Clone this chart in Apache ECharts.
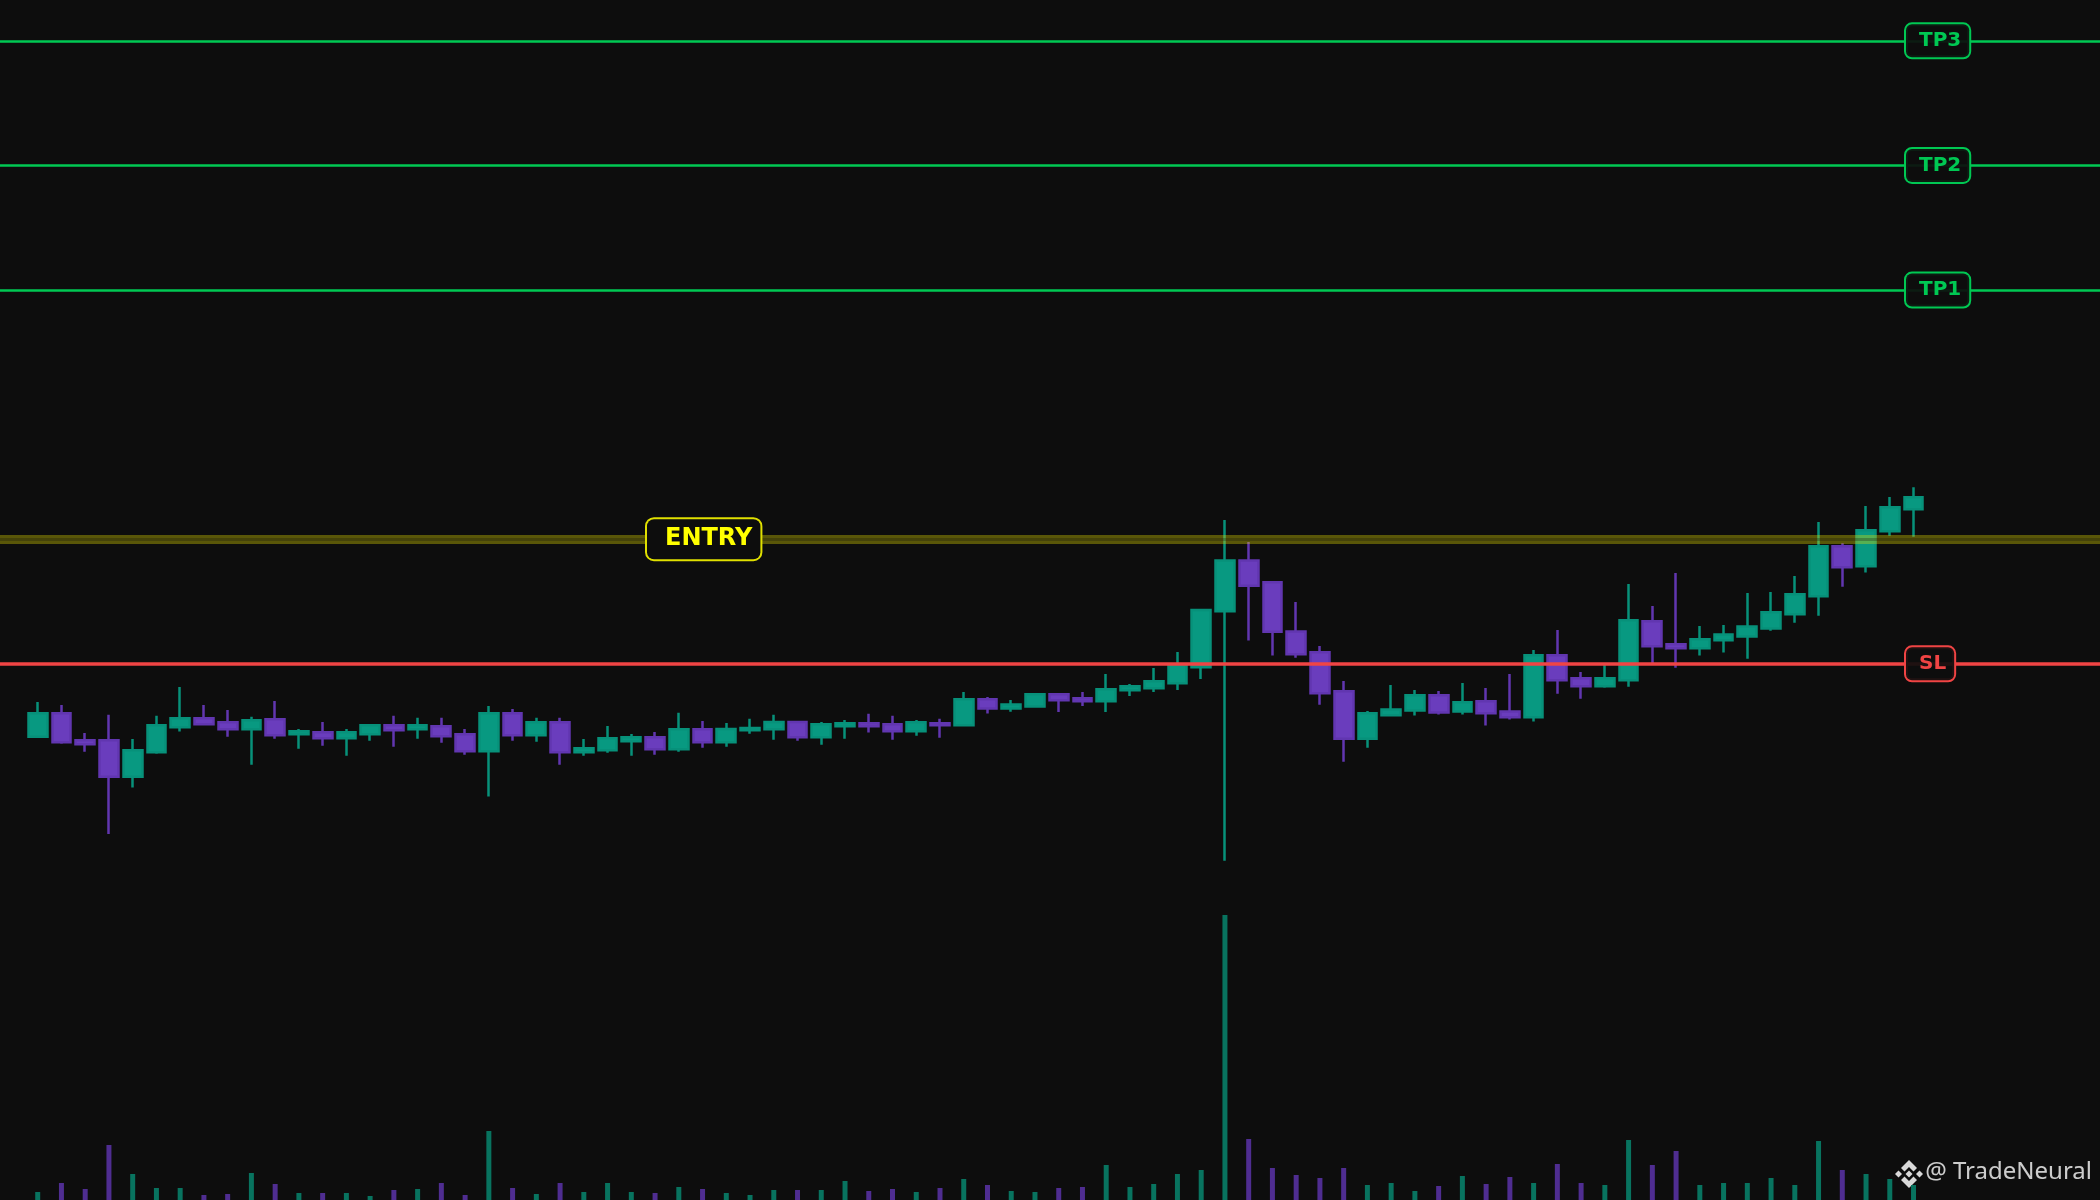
<!DOCTYPE html>
<html>
<head>
<meta charset="utf-8">
<style>
html,body{margin:0;padding:0;background:#0d0d0d;}
#chart{width:2100px;height:1200px;}
</style>
<script src="https://cdn.jsdelivr.net/npm/echarts@6.0.0/dist/echarts.min.js"></script>
</head>
<body>
<div id="chart"></div>
<script>
// ---- data ----
const opens = [92.07,93.01,91.93,91.93,90.47,91.45,92.45,92.81,92.65,92.37,
  92.77,92.17,92.25,92.01,92.17,92.53,92.37,92.49,92.17,91.49,
  93.01,92.13,92.65,91.45,91.53,91.89,92.05,91.57,92.37,91.85,
  92.33,92.37,92.66,92.05,92.49,92.61,92.57,92.29,92.61,92.53,
  93.58,93.21,93.29,93.78,93.62,93.50,93.94,94.02,94.22,94.86,
  97.11,99.15,98.27,96.30,95.46,93.90,91.99,92.93,93.13,93.74,
  93.09,93.50,93.09,92.85,95.34,94.42,94.10,94.34,96.71,95.78,
  95.62,95.94,96.10,96.42,96.99,97.71,99.72,98.91,100.32,101.20];
const closes = [93.01,91.85,91.77,90.47,91.53,92.53,92.81,92.57,92.37,92.73,
  92.13,92.29,92.01,92.25,92.53,92.33,92.53,92.09,91.49,93.01,
  92.13,92.65,91.45,91.61,92.01,92.05,91.57,92.37,91.85,92.38,
  92.42,92.66,92.05,92.57,92.61,92.49,92.29,92.65,92.53,93.58,
  93.21,93.37,93.78,93.54,93.50,93.98,94.10,94.30,94.97,97.16,
  99.15,98.13,96.29,95.38,93.82,91.99,93.01,93.17,93.74,93.05,
  93.46,93.01,92.85,95.34,94.34,94.10,94.42,96.75,95.70,95.62,
  95.98,96.18,96.50,97.07,97.79,99.72,98.87,100.36,101.28,101.68];
const lows = [92.03,91.79,91.47,88.17,90.03,91.39,92.28,92.57,92.07,90.95,
  91.99,91.59,91.71,91.31,91.91,91.67,91.99,91.83,91.35,89.67,
  91.91,91.87,90.95,91.31,91.43,91.31,91.35,91.47,91.63,91.67,
  92.19,91.95,91.91,91.75,91.99,92.24,91.95,92.11,92.03,92.53,
  93.00,93.08,93.24,93.07,93.31,93.07,93.71,93.87,93.95,94.39,
  87.10,95.93,95.33,95.24,93.36,91.07,91.63,92.93,92.92,92.96,
  92.96,92.52,92.76,92.68,93.80,93.60,94.04,94.08,94.97,94.84,
  95.33,95.45,95.20,96.33,96.65,96.93,98.09,98.66,100.14,100.10];
const highs = [93.47,93.35,92.22,92.95,91.98,92.91,94.07,93.35,93.15,92.87,
  93.51,92.38,92.66,92.38,92.58,92.91,92.83,92.83,92.38,93.31,
  93.19,92.83,92.83,91.98,92.50,92.18,92.26,93.03,92.70,92.62,
  92.79,92.95,92.70,92.66,92.74,92.99,92.91,92.74,92.79,93.87,
  93.67,93.55,93.83,93.78,93.87,94.59,94.19,94.83,95.47,97.20,
  100.77,99.89,98.32,97.48,95.71,94.31,93.11,94.15,93.95,93.91,
  94.23,94.03,94.59,95.55,96.36,94.67,94.99,98.20,97.32,98.64,
  96.52,96.56,97.84,97.88,98.52,100.69,99.84,101.33,101.69,102.09];
const volumes = [8,17,11,55,26,12,12,5,6,27,
  16,7,7,7,4,10,11,17,5,69,
  12,6,17,8,17,8,7,13,11,7,
  5,10,10,10,19,9,11,8,12,21,
  15,9,8,12,13,35,13,16,26,30,
  285,61,32,25,22,32,15,17,9,14,
  24,16,23,17,36,17,15,60,35,49,
  15,17,17,22,15,59,30,26,21,15];
const categories = opens.map((_, i) => 'bar ' + (i + 1));

const ENTRY = 100;
const SL = 95;
const TP1 = 110;
const TP2 = 115;
const TP3 = 120;
const levelNames = ['TP3', 'TP2', 'TP1', 'ENTRY', 'SL'];

// ---- styles ----
const GREEN = '#089981', GREEN_B = '#07917a';
const PURPLE = '#6a3dbd', PURPLE_B = '#6136b0';
const VOL_GREEN = '#08735f', VOL_PURPLE = '#4f2d91';
const TP_C = '#00c853';
const SL_C = '#f04444';
const ENTRY_TEXT = '#ffff00', ENTRY_BORDER = '#e0e000';
const BG = '#0d0d0d';

const P_MIN = 73.48, P_MAX = 121.64;
const LABEL_X = 1906;
const ENTRY_LABEL_X = 647;

const candleData = opens.map((o, i) => [o, closes[i], lows[i], highs[i]]);

function tagLabel(color) {
  return {
    show: true, position: 'right', distance: 0, formatter: '{b}',
    color: color, fontFamily: 'DejaVu Sans', fontWeight: 'bold', fontSize: 20,
    lineHeight: 21, padding: [6, 8, 6, 13],
    backgroundColor: 'rgba(13,13,13,0.92)', borderColor: color, borderWidth: 2, borderRadius: 6
  };
}

const chart = echarts.init(document.getElementById('chart'), null, {renderer: 'canvas'});
chart.setOption({
  backgroundColor: BG,
  animation: false,
  grid: [
    {left: 25.83, right: 174.6, top: 0, bottom: 0},
    {left: 25.83, right: 174.6, top: 900, bottom: 0},
    {left: 0, right: 0, top: 0, bottom: 0}
  ],
  xAxis: [
    {type: 'category', gridIndex: 0, data: categories, boundaryGap: true, show: false},
    {type: 'category', gridIndex: 1, data: categories, boundaryGap: true, show: false},
    {type: 'value', gridIndex: 2, min: 0, max: 2100, show: false}
  ],
  yAxis: [
    {type: 'value', gridIndex: 0, min: P_MIN, max: P_MAX, show: false, splitLine: {show: false}},
    {type: 'value', gridIndex: 1, min: 0, max: 300, show: false, splitLine: {show: false}},
    {type: 'value', gridIndex: 2, min: P_MIN, max: P_MAX, show: false, splitLine: {show: false}}
  ],
  series: [
    {
      type: 'bar', xAxisIndex: 1, yAxisIndex: 1, data: volumes, barWidth: 5, z: 1,
      itemStyle: {
        color: (p) => closes[p.dataIndex] >= opens[p.dataIndex] ? VOL_GREEN : VOL_PURPLE
      },
      silent: true
    },
    {
      type: 'candlestick', xAxisIndex: 0, yAxisIndex: 0, data: candleData,
      barWidth: '81%', z: 2, silent: true,
      itemStyle: {
        color: GREEN, color0: PURPLE,
        borderColor: GREEN_B, borderColor0: PURPLE_B, borderWidth: 2.5
      }
    },
    {
      type: 'line', xAxisIndex: 2, yAxisIndex: 2, data: [], silent: true,
      markLine: {
        silent: true, animation: false, z: 5,
        symbol: ['none', 'none'], label: {show: false},
        emphasis: {disabled: true},
        data: [
          {yAxis: TP3, lineStyle: {color: TP_C, width: 2.5, type: 'solid'}},
          {yAxis: TP2, lineStyle: {color: TP_C, width: 2.5, type: 'solid'}},
          {yAxis: TP1, lineStyle: {color: TP_C, width: 2.5, type: 'solid'}},
          {yAxis: ENTRY, lineStyle: {color: 'rgba(225,215,0,0.36)', width: 9, type: 'solid'}},
          {yAxis: ENTRY, lineStyle: {color: 'rgba(13,13,13,0.28)', width: 3, type: 'solid'}},
          {yAxis: SL, lineStyle: {color: SL_C, width: 3.5, type: 'solid'}}
        ]
      },
      markPoint: {
        silent: true, animation: false, z: 6,
        symbol: 'rect', symbolSize: 0,
        data: [
          {name: levelNames[0], coord: [LABEL_X, TP3], label: tagLabel(TP_C)},
          {name: levelNames[1], coord: [LABEL_X, TP2], label: tagLabel(TP_C)},
          {name: levelNames[2], coord: [LABEL_X, TP1], label: tagLabel(TP_C)},
          {name: levelNames[4], coord: [LABEL_X, SL], label: tagLabel(SL_C)},
          {name: levelNames[3], coord: [ENTRY_LABEL_X, ENTRY], label: {
            show: true, position: 'right', distance: 0, formatter: '{b}',
            color: ENTRY_TEXT, fontFamily: 'DejaVu Sans', fontWeight: 'bold', fontSize: 24,
            lineHeight: 24, padding: [8, 8, 8, 18],
            backgroundColor: BG, borderColor: ENTRY_BORDER, borderWidth: 2, borderRadius: 7
          }}
        ]
      }
    }
  ],
  graphic: [
    {
      type: 'text', right: 8, top: 1160, z: 20,
      style: {text: '@ TradeNeural', fill: 'rgba(225,225,225,0.9)', font: '24px "Noto Sans"'}
    },
    {
      type: 'group', left: 1895, top: 1160, z: 20,
      children: [
        {type: 'polygon', shape: {points: [[14,0],[22,8],[18.5,11.5],[14,7],[9.5,11.5],[6,8]]}, style: {fill: '#d9d9d9'}},
        {type: 'polygon', shape: {points: [[14,28],[22,20],[18.5,16.5],[14,21],[9.5,16.5],[6,20]]}, style: {fill: '#d9d9d9'}},
        {type: 'polygon', shape: {points: [[14,10.5],[17.5,14],[14,17.5],[10.5,14]]}, style: {fill: '#d9d9d9'}},
        {type: 'polygon', shape: {points: [[3.5,10.5],[7,14],[3.5,17.5],[0,14]]}, style: {fill: '#d9d9d9'}},
        {type: 'polygon', shape: {points: [[24.5,10.5],[28,14],[24.5,17.5],[21,14]]}, style: {fill: '#d9d9d9'}}
      ]
    }
  ]
});
</script>
</body>
</html>
